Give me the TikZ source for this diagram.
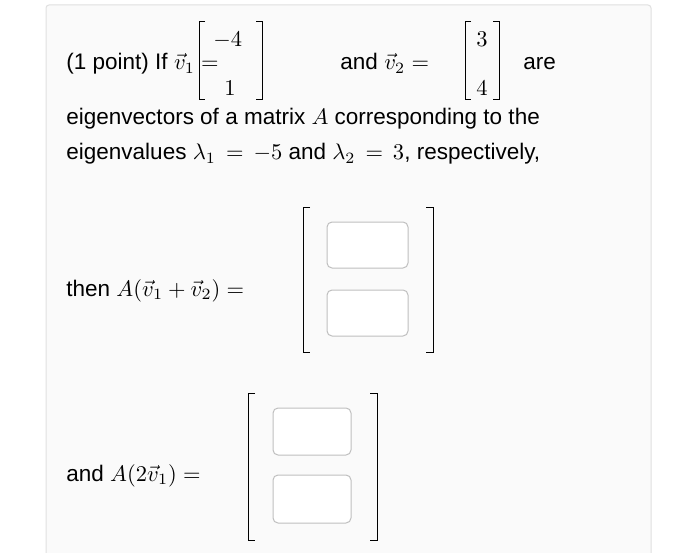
\documentclass[tikz,border=0pt]{standalone}
\usepackage{fontspec}
\setmainfont{Liberation Sans}
\begin{document}
\begin{tikzpicture}[x=1pt,y=-1pt,
  txt/.style={anchor=base west,inner sep=0pt,font=\fontsize{10}{12}\selectfont,scale=2.25,transform shape},
  brk/.style={line width=1pt},
  inbox/.style={draw=black!25,fill=white,rounded corners=5pt,line width=1pt}]
\useasboundingbox (0,0) rectangle (700,553);
\fill[white] (0,0) rectangle (700,553);
\draw[black!12,fill=black!2,line width=1pt,rounded corners=3pt] (46,5) rectangle (651,560);
% line 1
\node[txt] (l1a) at (66,70) {(1 point) If $\vec{v}_1$ $=$};
\draw[brk] (205,22) -- (199,22) -- (199,100) -- (205,100);
\draw[brk] (256,22) -- (262,22) -- (262,100) -- (256,100);
\node[txt] (m1) at (213,47) {$-4$};
\node[txt] (m2) at (224,96) {$1$};
\node[txt] (l1b) at (340,70) {and $\vec{v}_2$ $=$};
\draw[brk] (471,22) -- (465,22) -- (465,100) -- (471,100);
\draw[brk] (493,22) -- (499,22) -- (499,100) -- (493,100);
\node[txt] (m3) at (476,47) {$3$};
\node[txt] (m4) at (476,96) {$4$};
\node[txt] (l1c) at (523,70) {are};
\node[txt] (l2) at (66,125) {eigenvectors of a matrix $A$ corresponding to the};
\node[txt] (l3) at (66,160) {eigenvalues $\lambda_1\,=\,-5$ and $\lambda_2\,=\,3$, respectively,};
% then
\node[txt] (t) at (66,296) {then $A(\vec{v}_1+\vec{v}_2)=$};
\draw[brk] (310,207) -- (303,207) -- (303,352) -- (310,352);
\draw[brk] (426,207) -- (433,207) -- (433,352) -- (426,352);
\draw[inbox] (327,222) rectangle (408,268);
\draw[inbox] (327,290) rectangle (408,336);
% and
\node[txt] (a) at (66,481) {and $A(2\vec{v}_1)=$};
\draw[brk] (255,393) -- (248,393) -- (248,540) -- (255,540);
\draw[brk] (370,393) -- (377,393) -- (377,540) -- (370,540);
\draw[inbox] (273,408) rectangle (351,455);
\draw[inbox] (273,475) rectangle (351,523);
\end{tikzpicture}
\end{document}
